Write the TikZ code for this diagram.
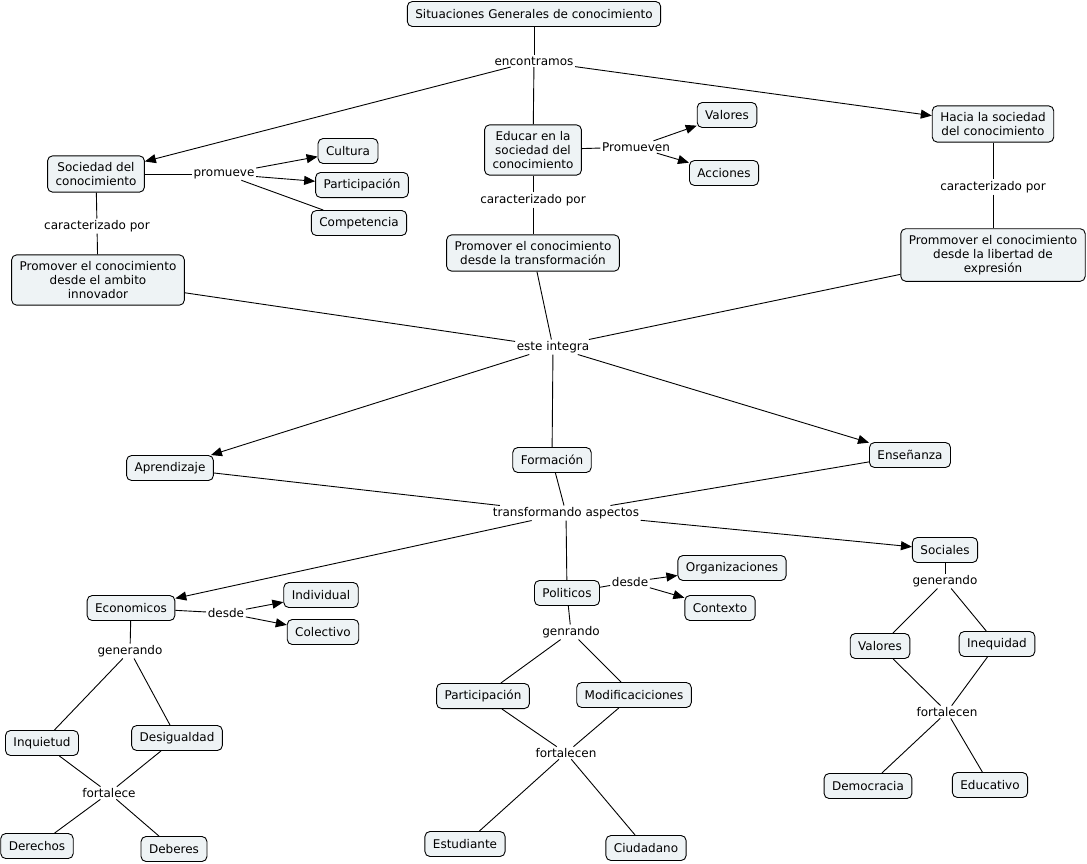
\documentclass[tikz,border=0pt]{standalone}
\usepackage{fontspec}
\setmainfont{DejaVu Sans}
\usetikzlibrary{arrows.meta}
\definecolor{cfill}{HTML}{EEF3F5}
\tikzset{
  concept/.style={draw=black, line width=0.9pt, fill=cfill, rounded corners=5pt,
    inner xsep=8pt, inner ysep=6.5pt, minimum height=25pt, align=center,
    font=\fontsize{12}{14}\selectfont},
  lbl/.style={inner sep=1.5pt, font=\fontsize{12}{14}\selectfont},
  conn/.style={line width=0.9pt, draw=black},
  arr/.style={conn, -{Triangle[length=11pt,width=9pt]}}
}
\begin{document}
\begin{tikzpicture}[x=1pt,y=-1pt]
\useasboundingbox (0,0) rectangle (1087,863);
% concepts
\node[concept] (title) at (534,14) {Situaciones Generales de conocimiento};
\node[concept] (soc) at (96,174) {Sociedad del\\conocimiento};
\node[concept] (cult) at (348,151) {Cultura};
\node[concept] (part1) at (362,185) {Participación};
\node[concept] (comp) at (359,223) {Competencia};
\node[concept] (innov) at (98,280) {Promover el conocimiento\\desde el ambito\\innovador};
\node[concept] (educ) at (533,150) {Educar en la\\sociedad del\\conocimiento};
\node[concept] (val1) at (727,115) {Valores};
\node[concept] (acc) at (724,173) {Acciones};
\node[concept] (transf) at (533,253) {Promover el conocimiento\\desde la transformación};
\node[concept] (hacia) at (993,124) {Hacia la sociedad\\del conocimiento};
\node[concept] (libert) at (993,255) {Prommover el conocimiento\\desde la libertad de\\expresión};
\node[concept] (apren) at (170,468) {Aprendizaje};
\node[concept] (form) at (552,460) {Formación};
\node[concept] (ense) at (910,455) {Enseñanza};
\node[concept] (socia) at (945,550) {Sociales};
\node[concept] (val2) at (880,646) {Valores};
\node[concept] (ineq) at (997,644) {Inequidad};
\node[concept] (demo) at (868,786) {Democracia};
\node[concept] (educa) at (990,785) {Educativo};
\node[concept] (econ) at (131,608) {Economicos};
\node[concept] (indiv) at (321,595) {Individual};
\node[concept] (colec) at (323,632) {Colectivo};
\node[concept] (inqu) at (42,743) {Inquietud};
\node[concept] (desig) at (177,738) {Desigualdad};
\node[concept] (dere) at (37,846) {Derechos};
\node[concept] (debe) at (174,849) {Deberes};
\node[concept] (poli) at (567,593) {Politicos};
\node[concept] (orga) at (732,568) {Organizaciones};
\node[concept] (cont) at (720,608) {Contexto};
\node[concept] (part2) at (483,696) {Participación};
\node[concept] (modi) at (634,695) {Modificaciciones};
\node[concept] (estu) at (465,844) {Estudiante};
\node[concept] (ciud) at (646,848) {Ciudadano};
% linking phrases
\node[lbl] (l1) at (534,61) {encontramos};
\node[lbl] (l2) at (224,174) {promueve};
\node[lbl] (l3) at (97,226) {caracterizado por};
\node[lbl] (l4) at (636,147) {Promueven};
\node[lbl] (l5) at (533,200) {caracterizado por};
\node[lbl] (l6) at (993,187) {caracterizado por};
\node[lbl] (l7) at (553,347) {este integra};
\node[lbl] (l8) at (566,513) {transformando aspectos};
\node[lbl] (l9) at (226,613) {desde};
\node[lbl] (l10) at (130,651) {generando};
\node[lbl] (l11) at (109,793) {fortalece};
\node[lbl] (l12) at (630,582) {desde};
\node[lbl] (l13) at (571,632) {genrando};
\node[lbl] (l14) at (566,753) {fortalecen};
\node[lbl] (l15) at (945,581) {generando};
\node[lbl] (l16) at (947,712) {fortalecen};
% connections
\draw[conn] (title) -- (l1);
\draw[arr] (l1) -- (soc);
\draw[conn] (l1) -- (educ);
\draw[arr] (l1) -- (hacia);
\draw[conn] (soc) -- (l2);
\draw[arr] (l2) -- (cult);
\draw[arr] (l2) -- (part1);
\draw[conn] (l2) -- (comp);
\draw[conn] (soc) -- (l3);
\draw[conn] (l3) -- (innov);
\draw[conn] (educ) -- (l4);
\draw[arr] (l4) -- (val1);
\draw[arr] (l4) -- (acc);
\draw[conn] (educ) -- (l5);
\draw[conn] (l5) -- (transf);
\draw[conn] (hacia) -- (l6);
\draw[conn] (l6) -- (libert);
\draw[conn] (innov) -- (l7);
\draw[conn] (transf) -- (l7);
\draw[conn] (libert) -- (l7);
\draw[arr] (l7) -- (apren);
\draw[conn] (l7) -- (form);
\draw[arr] (l7) -- (ense);
\draw[conn] (apren) -- (l8);
\draw[conn] (form) -- (l8);
\draw[conn] (ense) -- (l8);
\draw[arr] (l8) -- (econ);
\draw[conn] (l8) -- (poli);
\draw[arr] (l8) -- (socia);
\draw[conn] (econ) -- (l9);
\draw[arr] (l9) -- (indiv);
\draw[arr] (l9) -- (colec);
\draw[conn] (econ) -- (l10);
\draw[conn] (l10) -- (inqu);
\draw[conn] (l10) -- (desig);
\draw[conn] (inqu) -- (l11);
\draw[conn] (desig) -- (l11);
\draw[conn] (l11) -- (dere);
\draw[conn] (l11) -- (debe);
\draw[conn] (poli) -- (l12);
\draw[arr] (l12) -- (orga);
\draw[arr] (l12) -- (cont);
\draw[conn] (poli) -- (l13);
\draw[conn] (l13) -- (part2);
\draw[conn] (l13) -- (modi);
\draw[conn] (part2) -- (l14);
\draw[conn] (modi) -- (l14);
\draw[conn] (l14) -- (estu);
\draw[conn] (l14) -- (ciud);
\draw[conn] (socia) -- (l15);
\draw[conn] (l15) -- (val2);
\draw[conn] (l15) -- (ineq);
\draw[conn] (val2) -- (l16);
\draw[conn] (ineq) -- (l16);
\draw[conn] (l16) -- (demo);
\draw[conn] (l16) -- (educa);
\end{tikzpicture}
\end{document}
